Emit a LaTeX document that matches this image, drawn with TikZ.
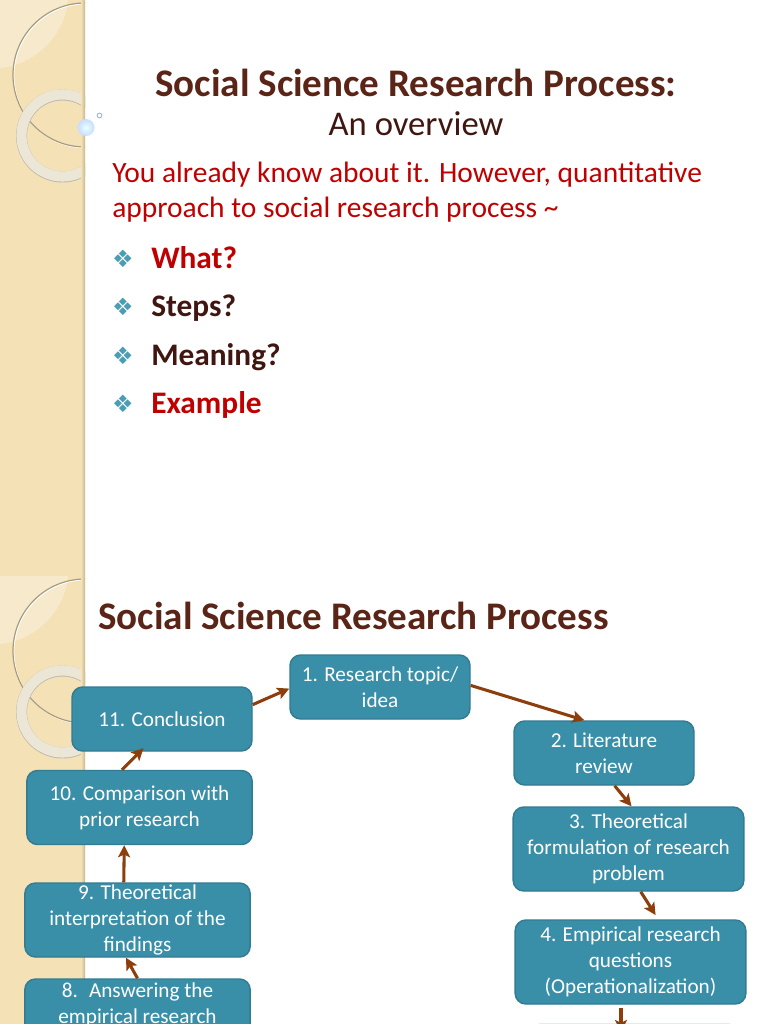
\documentclass[tikz,border=0pt]{standalone}
\usepackage{fontspec}
\usetikzlibrary{arrows.meta}
\setmainfont{Carlito}
\newfontfamily\symbfont{DejaVu Sans}
\definecolor{sidetan}{HTML}{F4E1B6}
\definecolor{sideedge}{HTML}{C9B58C}
\definecolor{ringgrey}{HTML}{ECE6D6}
\definecolor{ringline}{HTML}{A89C80}
\definecolor{tealbox}{HTML}{3A8FA8}
\definecolor{tealedge}{HTML}{327C92}
\definecolor{arrowbrown}{HTML}{8C3F0C}
\definecolor{titlebrown}{HTML}{5A2416}
\definecolor{darkbrown}{HTML}{3F1710}
\definecolor{redtext}{HTML}{C00000}
\definecolor{bullet}{HTML}{4A9DB3}
\tikzset{
  stepbox/.style={draw=tealedge,line width=1.1pt,fill=tealbox,rounded corners=8pt,text=white,align=center,inner sep=0pt,font=\fontsize{15.9}{19.5}\selectfont},
  arr/.style={-{Stealth[length=9pt,width=9pt,inset=2pt]},draw=arrowbrown,fill=arrowbrown,line width=2.3pt},
  thinring/.style={draw=#1,line width=0.9pt},
  item/.style={anchor=base west,inner sep=0pt,font=\fontsize{23.5}{28}\selectfont\bfseries},
  bulletmark/.style={text=bullet,inner sep=0pt,font=\symbfont\fontsize{18}{18}\selectfont}
}
\begin{document}
\begin{tikzpicture}[x=0.75pt,y=-0.75pt]
\useasboundingbox (0,0) rectangle (768,1024);
\fill [white] (0,0) rectangle (768,1024);
\fill [sidetan] (0,0) rectangle (85,1024);
\begin{scope}
\clip (0,0) rectangle (85,576);
\fill [white,opacity=0.3] (0,0) -- (68,0) .. controls (65,35) and (35,65) .. (0,68) -- cycle;
\draw [thinring=white] (85.8,75.8) circle [radius=72];
\draw [thinring=ringline] (85,75) circle [radius=72];
\draw [ringgrey!80!black,line width=8.2pt] (62.5,136) circle [radius=41];
\draw [ringgrey,line width=7.6pt] (62.5,135.5) circle [radius=41];
\end{scope}
\begin{scope}
\clip (0,576) rectangle (85,1024);
\fill [white,opacity=0.3] (0,576) -- (68,576) .. controls (65,611) and (35,641) .. (0,644) -- cycle;
\draw [thinring=white] (85.8,651.8) circle [radius=72];
\draw [thinring=ringline] (85,651) circle [radius=72];
\draw [ringgrey!80!black,line width=8.2pt] (62.5,712) circle [radius=41];
\draw [ringgrey,line width=7.6pt] (62.5,711.5) circle [radius=41];
\end{scope}
\shade [left color=sidetan,right color=sideedge] (81,0) rectangle (85,1024);
\shade [inner color=cyan!8!white,outer color=cyan!40!blue!22!white] (86,127.5) circle [radius=8.5];
\draw [cyan!40!gray!70,line width=0.7pt] (99.5,115.5) circle [radius=2.4];

\node [text=titlebrown,font=\fontsize{29.3}{34}\selectfont\bfseries] (maintitle) at (416,83) {Social Science Research Process:};
\node [text=darkbrown,font=\fontsize{26}{30}\selectfont] (subtitle) at (416,124) {An overview};
\node [anchor=north west,inner sep=0pt,text=redtext,align=left,font=\fontsize{22.1}{26.3}\selectfont] (intro) at (112,162) {You already know about it. However, quantitative\\approach to social research process \textasciitilde};
\node [item,text=redtext] (what) at (151,268) {What?};
\node [item,text=darkbrown] (steps) at (151,316) {Steps?};
\node [item,text=darkbrown] (meaning) at (151,365) {Meaning?};
\node [item,text=redtext] (example) at (151,413) {Example};
\node [bulletmark] (bulleta) at (123,258.5) {❖};
\node [bulletmark] (bulletb) at (123,307) {❖};
\node [bulletmark] (bulletc) at (123,355.5) {❖};
\node [bulletmark] (bulletd) at (123,403.5) {❖};

\node [anchor=west,inner sep=0pt,text=titlebrown,font=\fontsize{29.3}{34}\selectfont\bfseries] (secondtitle) at (98,616) {Social Science Research Process};

\node [stepbox,minimum width=135pt,minimum height=48pt] (n1) at (380,687) {1. Research topic/\\idea};
\node [stepbox,minimum width=135pt,minimum height=48pt] (n2) at (604,753) {2. Literature\\review};
\node [stepbox,minimum width=173pt,minimum height=63pt] (n3) at (628.5,849) {3. Theoretical\\formulation of research\\problem};
\node [stepbox,minimum width=173pt,minimum height=63pt] (n4) at (630.5,962) {4. Empirical research\\questions\\(Operationalization)};
\node [stepbox,draw=tealedge!40,fill=tealbox!40,minimum width=157pt,minimum height=60pt] (n5) at (634.5,1064.3) {};
\node [stepbox,minimum width=169pt,minimum height=55.5pt] (n8) at (137.5,1016) {8.~ Answering the\\empirical research\\~};
\node [stepbox,minimum width=169pt,minimum height=55.5pt] (n9) at (137.5,920) {9. Theoretical\\interpretation of the\\findings};
\node [stepbox,minimum width=169pt,minimum height=55.5pt] (n10) at (139.5,807.5) {10. Comparison with\\prior research};
\node [stepbox,minimum width=135pt,minimum height=48pt] (n11) at (162,719) {11. Conclusion};

\coordinate (c5) at (621,1032);
\draw [arr] (n11.9.5) -- (n1.181);
\draw [arr] (n1.1) -- (n2.121);
\draw [arr] (n2.-72.6) -- (n3.86.6);
\draw [arr,shorten >=3.75pt] (n3.-74.7) -- (n4.57.8);
\draw [arr,shorten <=2.25pt] (c5 |- n4.south) -- (c5);
\draw [arr] (n8.north) -- (n9.-107.3);
\draw [arr] (n9.110) -- (n10.-112.4);
\draw [arr,shorten >=-3.75pt] (n10.115.6) -- (n11.-124.5);
\end{tikzpicture}
\end{document}
